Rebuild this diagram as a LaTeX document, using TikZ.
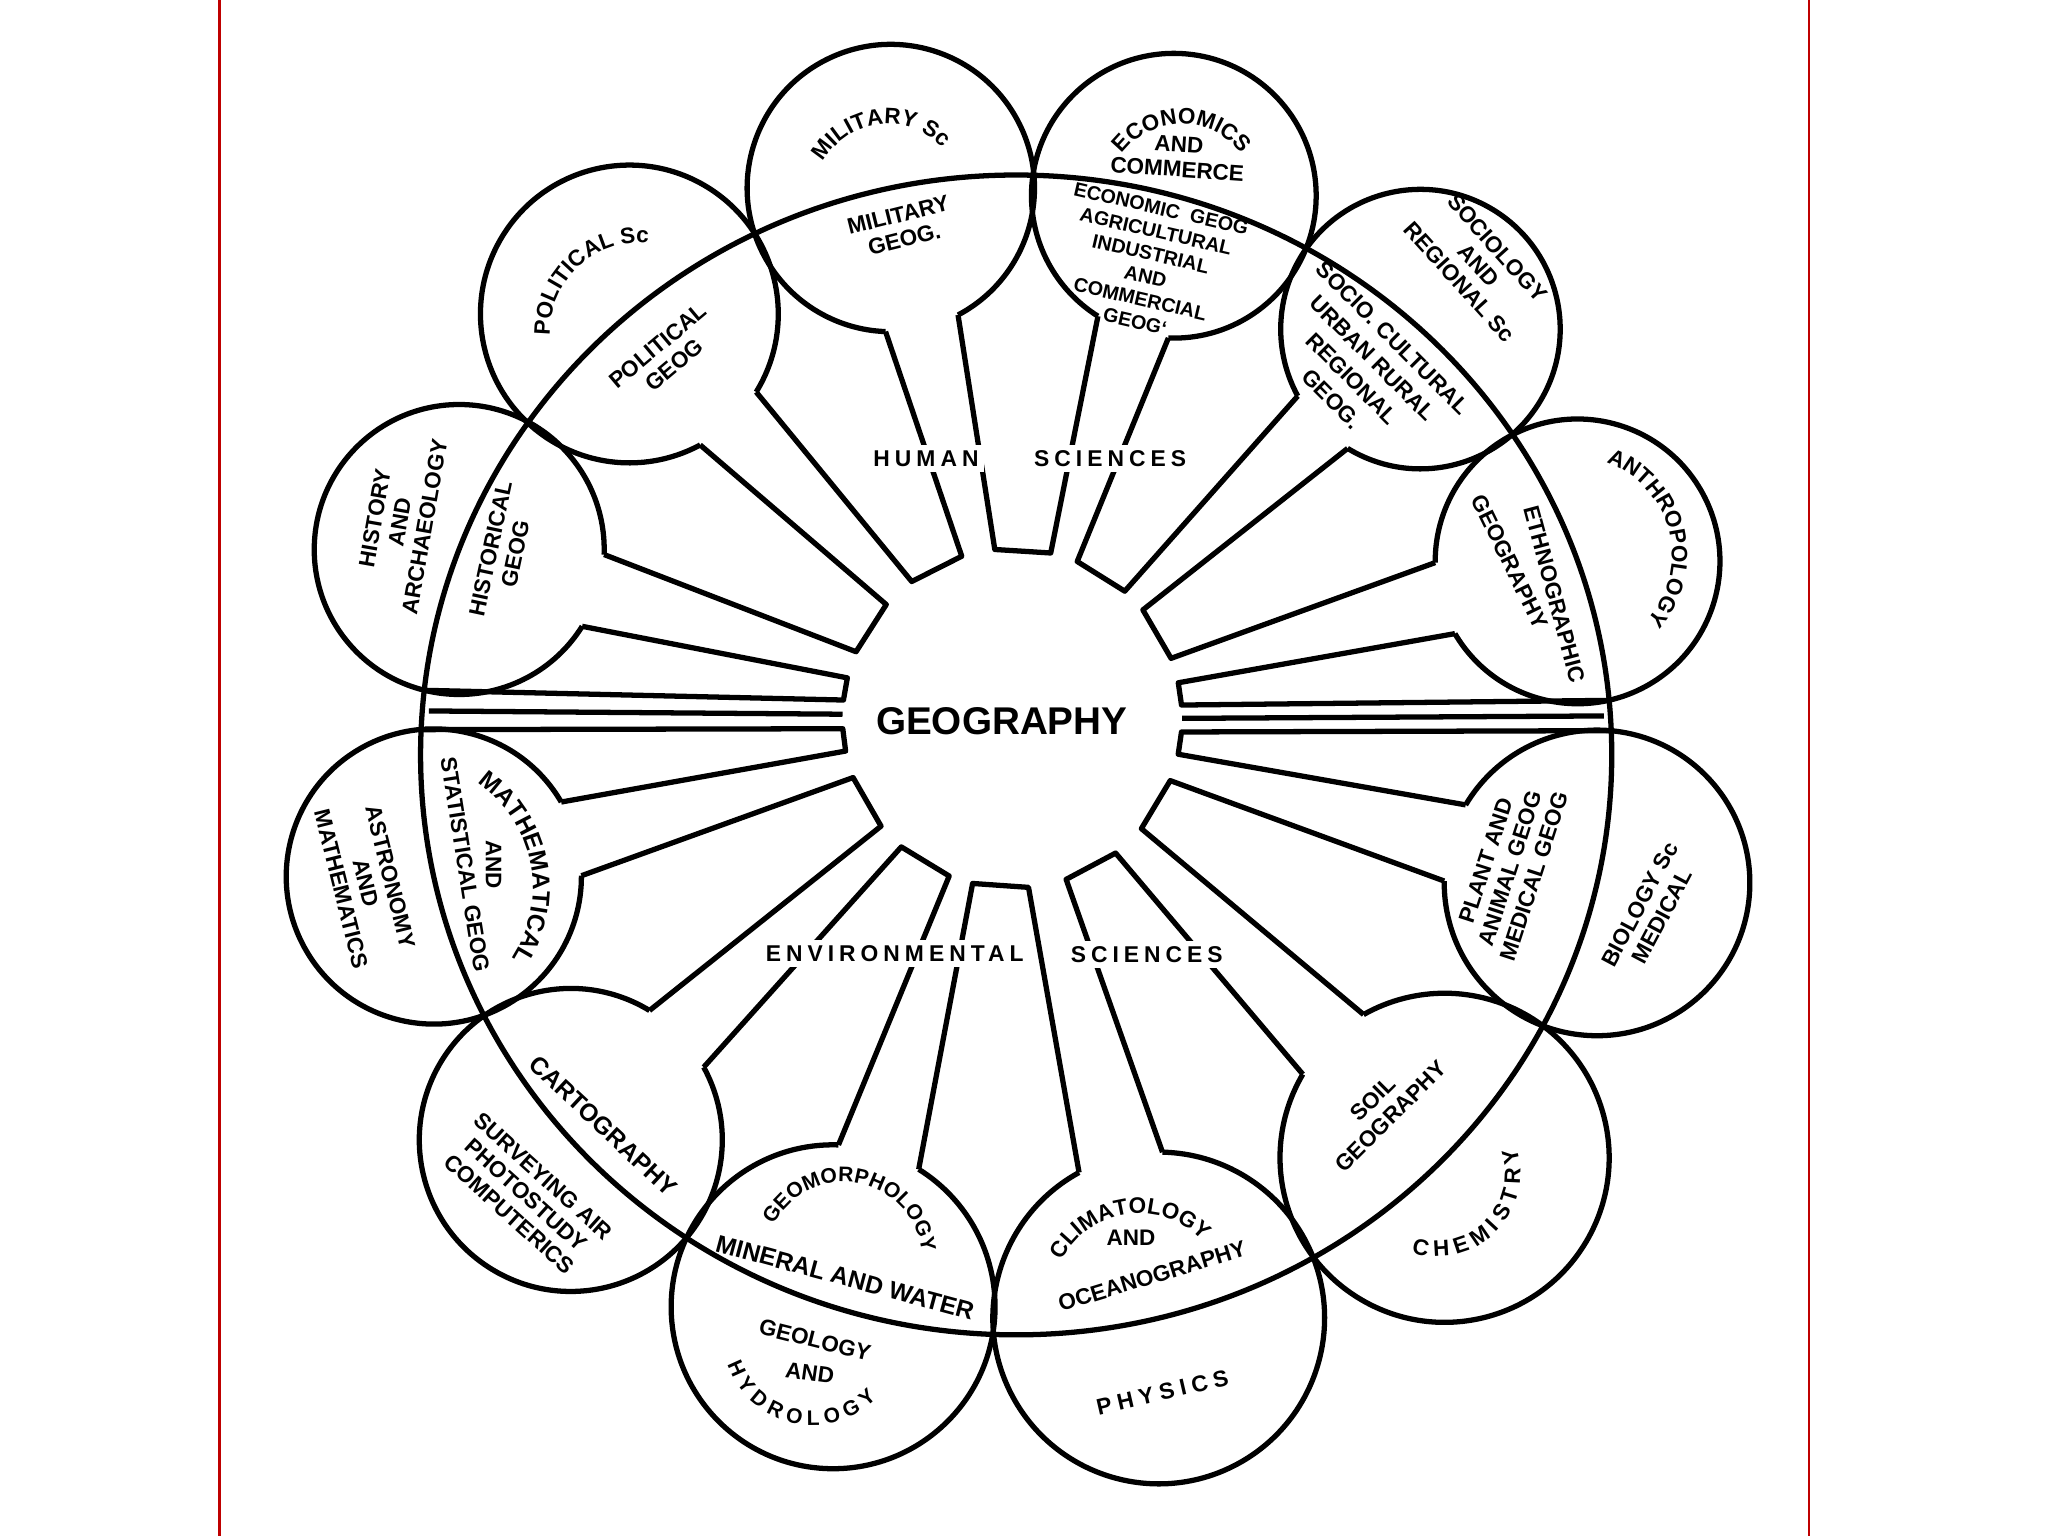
\documentclass[tikz,border=0pt]{standalone}
\usepackage{fontspec}
\setsansfont{Liberation Sans}
\usetikzlibrary{calc,decorations.text}

\newcommand{\labfont}{\sffamily\bfseries\fontsize{6.4}{7.2}\selectfont}
\newcommand{\smfont}{\sffamily\bfseries\fontsize{6}{6.6}\selectfont}
\newcommand{\bigfont}{\sffamily\bfseries\fontsize{7}{7.8}\selectfont}
\newcommand{\scifont}{\sffamily\bfseries\fontsize{6.5}{7}\selectfont\addfontfeature{LetterSpace=22}}

\begin{document}
\begin{tikzpicture}[x=0.013061cm, y=0.013061cm, line width=1.5pt, line join=round,
    lab/.style={font=\labfont, align=center, inner sep=0pt},
    labw/.style={font=\bigfont, align=center, inner sep=0pt},
    sci/.style={font=\scifont, fill=white, inner sep=1.5pt},
    curv/.style={decorate, decoration={text along path, text align=center, text={|\labfont|#1}}},
    curvs/.style={decorate, decoration={text along path, text align=center, text={|\smfont|#1}}},
    curvw/.style={decorate, decoration={text along path, text align=center, text={|\bigfont|#1}}}
]
\useasboundingbox (0,0) rectangle (1568,-1176);

% page edges
\draw[red!75!black, line width=0.7pt] (168,0) -- (168,-1176) (1385,0) -- (1385,-1176);

\coordinate (C) at (778,-578);
\coordinate (O) at (775,-550);
\draw (C) ellipse [x radius=456, y radius=444];

% petals: name / angle on big circle / radius / direction of the mouth
\foreach \n/\t/\r/\f in {anth/19.5/109/195.5, soc/47.25/107/223.6, eco/74.65/109/252.8,
    mil/102.15/110/282.9, pol/130.5/114/313.4, hist/159.25/111/343,
    astro/-167.9/113/15.3, surv/-138.4/116/43.7, geol/-107.9/124/73.1,
    phys/-76.15/127/103.7, chem/-44/126/134.5, bio/-12.75/117/164.3}{
  \coordinate (\n) at ($(C)+({456*cos(\t)},{444*sin(\t)})$);
  \coordinate (\n-a) at ($(\n)+(\f+15:\r)$);
  \coordinate (\n-b) at ($(\n)+(\f-15:\r)$);
  \draw (\n-a) arc[start angle=\f+15, delta angle=330, radius=\r];
}

% where the side petals meet the big circle
\coordinate (hl) at ($(C)+({456*cos(173.6)},{444*sin(173.6)})$);
\coordinate (al) at ($(C)+({456*cos(177.5)},{444*sin(177.5)})$);
\coordinate (ar) at ($(C)+({456*cos(5.4)},{444*sin(5.4)})$);
\coordinate (br) at ($(C)+({456*cos(2.4)},{444*sin(2.4)})$);

% spikes between the petals
\foreach \g/\d/\p/\q in {30.2/9.5/anth-b/soc-a, 58/9.5/soc-b/eco-a, 86.4/9.5/eco-b/mil-a,
    116.8/9.5/mil-b/pol-a, 147.4/9.5/pol-b/hist-a, 170/3.8/hist-b/hl, 187.3/3.8/al/astro-a,
    209.9/9.5/astro-b/surv-a, 238.7/9.5/surv-b/geol-a, 266/9.5/geol-b/phys-a,
    298/9.5/phys-b/chem-a, 329/9.5/chem-b/bio-a, 351.6/3.8/bio-b/br, 8.3/3.8/ar/anth-a}{
  \coordinate (k1) at ($(O)+(\g-\d:130)$);
  \coordinate (k2) at ($(O)+(\g+\d:130)$);
  \draw (\p) -- (k1) -- (k2) -- (\q);
}

% middle lines of the two strips
\coordinate (ml1) at ($(C)+({451*cos(175.6)},{439*sin(175.6)})$);
\coordinate (ml2) at ($(O)+(178.6:130)$);
\coordinate (mr1) at ($(C)+({451*cos(3.9)},{439*sin(3.9)})$);
\coordinate (mr2) at ($(O)+(0:130)$);
\draw (ml1) -- (ml2);
\draw (mr1) -- (mr2);

\node[font=\sffamily\bfseries\fontsize{11}{12}\selectfont] (geo) at (767,-552) {GEOGRAPHY};
\node[sci] (hum) at (709,-351) {HUMAN};
\node[sci] (hsci) at (850,-351) {SCIENCES};
\node[sci] (env) at (685,-730) {ENVIRONMENTAL};
\node[sci] (esci) at (878,-731) {SCIENCES};

% military
\path[curv={MILITARY Sc}] ($(680,-152)+(177:57)$) arc[start angle=177, end angle=17, radius=57];
\node[lab, rotate=14] (milg) at (690,-174) {MILITARY\\GEOG.};

% economics
\path[curv={ECONOMICS}] ($(905,-152)+(170:57)$) arc[start angle=170, end angle=10, radius=57];
\node[lab, rotate=-4] (ecoc) at (902,-120) {AND\\COMMERCE};
\node[lab, font=\sffamily\bfseries\fontsize{5.6}{6.6}\selectfont, rotate=-13] (ecog) at (879,-203)
  {ECONOMIC\ \ GEOG\\AGRICULTURAL\\INDUSTRIAL\\AND\\COMMERCIAL\\GEOG`};

% sociology
\node[lab, rotate=-48] (socs) at (1132,-203) {SOCIOLOGY\\AND\\REGIONAL Sc};
\node[lab, rotate=-45] (socg) at (1043,-282) {SOCIO. CULTURAL\\[1pt]URBAN RURAL\\[1pt]REGIONAL\\[1pt]GEOG.};

% anthropology
\path[curv={ANTHROPOLOGY}] ($(1205,-425)+(100:75)$) arc[start angle=100, end angle=-71, radius=75];
\node[lab, rotate=-75] (anthe) at (1190,-455) {ETHNOGRAPHIC};
\node[lab, rotate=-64] (anthg) at (1156,-430) {GEOGRAPHY};

% biology
\node[lab, rotate=62] (bios) at (1264,-697) {BIOLOGY Sc\\MEDICAL};
\node[lab, rotate=72] (biog) at (1156,-665) {PLANT AND\\ANIMAL GEOG\\MEDICAL GEOG};

% chemistry
\path[curv={C H E M I S T R Y}] ($(1100,-898)+(-130:64)$) arc[start angle=-130, end angle=40, radius=64];
\node[lab, rotate=45] (chems) at (1058,-848) {SOIL\\GEOGRAPHY};

% physics
\node[font=\sffamily\bfseries\fontsize{6.5}{7}\selectfont\addfontfeature{LetterSpace=25}, rotate=13, inner sep=0pt] (physo) at (890,-1066) {PHYSICS};
\path[curv={CLIMATOLOGY}] ($(872,-995)+(178:66)$) arc[start angle=178, end angle=18, radius=66];
\node[lab] (physa) at (866,-948) {AND};
\node[lab, rotate=17] (physg) at (882,-977) {OCEANOGRAPHY};

% geology
\node[lab, rotate=-14] (geolo) at (624,-1026) {GEOLOGY};
\node[lab, rotate=-8] (geola) at (620,-1051) {AND};
\path[curvs={H Y D R O L O G Y}] ($(622,-1022)+(180:69)$) arc[start angle=180, end angle=335, radius=69];
\path[curvs={GEOMORPHOLOGY}] ($(646,-965)+(170:60)$) arc[start angle=170, end angle=-11, radius=60];
\node[labw, rotate=-15] (geolm) at (647,-978) {MINERAL AND WATER};

% surveying
\node[labw, rotate=-43] (survc) at (462,-862) {CARTOGRAPHY};
\node[lab, rotate=-42] (survs) at (403,-915) {SURVEYING AIR\\PHOTOSTUDY\\COMPUTERICS};

% astronomy
\path[curvw={MATHEMATICAL}] ($(310,-680)+(110:98)$) arc[start angle=110, end angle=-88, radius=98];
\node[lab, rotate=-90] (astra) at (378,-662) {AND};
\node[lab, rotate=-81] (astrs) at (356,-662) {STATISTICAL GEOG};
\node[lab, rotate=-76] (astrt) at (280,-676) {ASTRONOMY\\AND\\MATHEMATICS};

% history
\node[lab, rotate=80] (histo) at (306,-400) {HISTORY\\AND\\ARCHAEOLOGY};
\node[lab, rotate=78] (histg) at (385,-422) {HISTORICAL\\GEOG};

% political
\path[curv={POLITICAL Sc}] ($(490,-255)+(223:69)$) arc[start angle=223, end angle=43, radius=69];
\node[lab, rotate=40] (polg) at (510,-272) {POLITICAL\\GEOG};

\end{tikzpicture}
\end{document}
